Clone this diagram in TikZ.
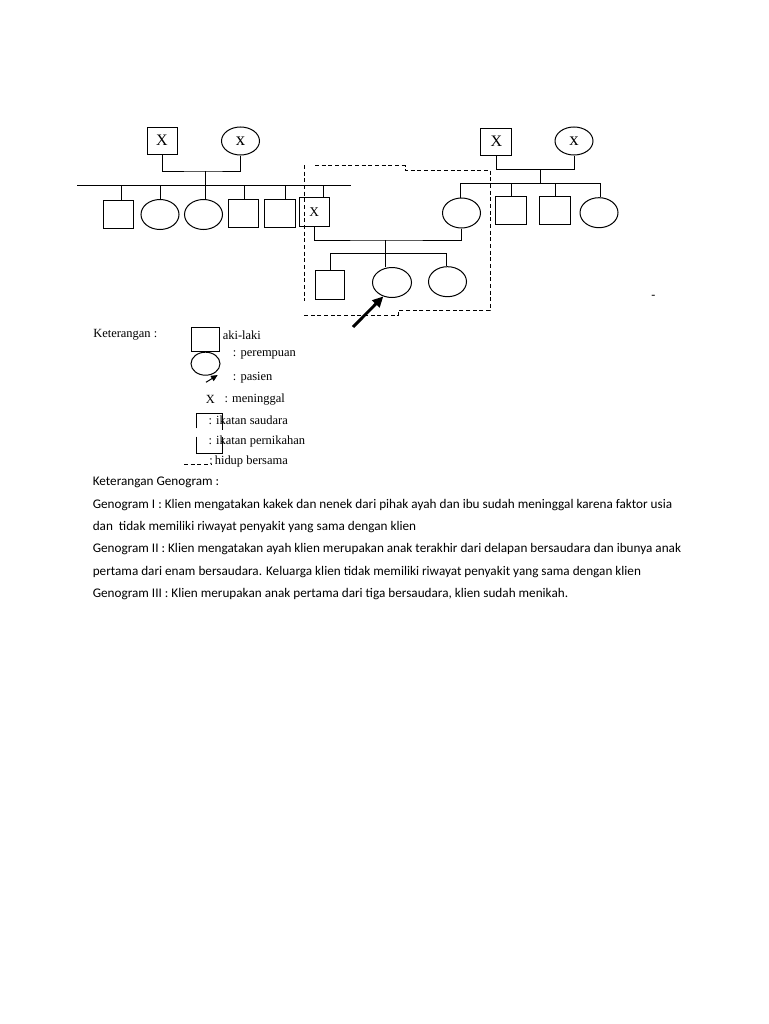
\documentclass[tikz,border=0pt]{standalone}
\usepackage{fontspec}
\setmainfont{Liberation Serif}
\newfontfamily\bodyfont{Carlito}
\usetikzlibrary{shapes.geometric,arrows.meta}
\begin{document}
\begin{tikzpicture}[x=0.75pt,y=-0.75pt,
  ln/.style={line width=0.75pt},
  sq/.style={draw,line width=0.75pt,rectangle,inner sep=0pt},
  el/.style={draw,line width=0.75pt,ellipse,inner sep=0pt},
  sqA/.style={sq,minimum width=22.5pt,minimum height=21pt},
  elA/.style={el,minimum width=28.5pt,minimum height=22.5pt},
  dsh/.style={line width=0.75pt,dash pattern=on 3pt off 2pt},
  lt/.style={font=\fontsize{9.35pt}{11pt}\selectfont,anchor=west,inner sep=0pt},
  bt/.style={font=\bodyfont\fontsize{9.9pt}{11pt}\selectfont,anchor=west,inner sep=0pt},
  bigX/.style={font=\fontsize{12pt}{14pt}\selectfont},
  smallx/.style={font=\fontsize{14pt}{16pt}\selectfont},
  midX/.style={font=\fontsize{10pt}{12pt}\selectfont}
]
\fill[white] (0,0) rectangle (768,1024);
\useasboundingbox (0,0) rectangle (768,1024);

% ---------- generation I ----------
\node[sq,bigX,minimum width=22.5pt,minimum height=20.25pt] (gf1) at (162,140.5) {X};
\node[el,smallx,minimum width=28.5pt,minimum height=21pt] (gm1) at (240.5,141) {x};
\node[sq,bigX,minimum width=23pt,minimum height=20.25pt] (gf2) at (496.3,141.5) {X};
\node[el,smallx,minimum width=28.5pt,minimum height=21pt] (gm2) at (574,141) {x};

% ---------- generation II (father's side) ----------
\node[sqA] (c1) at (118,214) {};
\node[elA] (c2) at (160,214.5) {};
\node[elA] (c3) at (203.5,214.5) {};
\node[sqA] (c4) at (243.3,213) {};
\node[sqA,minimum width=23pt] (c5) at (279.7,213) {};
\node[sq,midX,minimum width=22.5pt,minimum height=21.75pt] (fa) at (314.3,212) {X};

% ---------- generation II (mother's side) ----------
\node[elA] (mo) at (461.5,213) {};
\node[sqA,minimum width=23.25pt] (u1) at (511.2,210.8) {};
\node[sqA,minimum width=23.25pt] (u2) at (555.3,210.8) {};
\node[elA] (u3) at (599,212.7) {};

% ---------- generation III ----------
\node[sq,minimum width=21.5pt,minimum height=21.75pt] (k1) at (330,284.5) {};
\node[el,minimum width=29.25pt,minimum height=22.5pt] (pt) at (392,282.5) {};
\node[elA] (k3) at (447.5,281.7) {};

% ---------- connectors I -> II (left) ----------
\coordinate (m1) at (205,171);
\coordinate (s1a) at (77,185);
\coordinate (s1b) at (351,185);
\draw[ln] (gf1.south) |- (m1) -| (gm1.south);
\draw[ln] (s1a) -- (s1b);
\draw[ln] (m1) -- (m1 |- s1a);
\foreach \n/\x in {c1/121,c2/160,c3/205,c4/244.3,c5/285,fa/323.3}
  \draw[ln] (\x,185) -- (\n.north -| \x,185);

% ---------- connectors I -> II (right) ----------
\coordinate (m2) at (540,169.3);
\coordinate (s2a) at (460,183.3);
\coordinate (s2b) at (600,183.3);
\draw[ln] (gf2.south) |- (m2) -| (gm2.south);
\draw[ln] (s2a) -- (s2b);
\draw[ln] (m2) -- (m2 |- s2a);
\foreach \n/\x in {mo/460,u1/511.7,u2/555,u3/600}
  \draw[ln] (\x,183.3) -- (\n.north -| \x,183.3);

% ---------- connectors II -> III ----------
\coordinate (m3) at (385,240);
\coordinate (s3a) at (330,253.3);
\coordinate (s3b) at (446.7,253.3);
\draw[ln] (fa.south) |- (m3) -| (mo.south);
\draw[ln] (s3a) -- (s3b);
\draw[ln] (m3) -- (m3 |- s3a);
\foreach \n/\x in {k1/330,pt/385,k3/446.7}
  \draw[ln] (\x,253.3) -- (\n.north -| \x,253.3);

% ---------- patient arrow ----------
\coordinate (pa) at (353,327);
\draw[line width=2.2pt,-{Triangle[length=8pt,width=7.5pt]}] (pa) -- (pt.238);

% ---------- living together (dashed) ----------
\draw[dsh] (304,165) -- (304,301);
\draw[dsh] (315,165.5) -- (405,165.5) -- (405,170) -- (490,170) -- (490,310.5)
  -- (398,310.5) -- (398,315) -- (303,315);

\node[bt] (dash) at (651,297) {-};

% ---------- legend ----------
\node[lt] (ket) at (93,335) {Keterangan :};
\node[lt] (t1) at (222.5,335) {aki-laki};
\node[sq,fill=white,minimum width=20.7pt,minimum height=18.3pt] (lsq) at (205.5,339.5) {};
\node[el,minimum width=21.75pt,minimum height=17.25pt] (lel) at (205.5,363.7) {};
\node[lt] (t2) at (232.7,355) {: perempuan};
\coordinate (la) at (206,382.3);
\coordinate (lb) at (217.7,375);
\draw[line width=0.75pt,-{Triangle[length=5pt,width=4.5pt]}] (la) -- (lb);
\node[lt] (t3) at (232.7,377.3) {: pasien};
\node[lt] (lx) at (205.5,399.3) {X};
\node[lt] (t4) at (224.3,399.3) {: meninggal};
\draw[ln] (196,428.3) -- (196,413.3) -- (222.7,413.3) -- (222.7,430);
\node[lt] (t5) at (208.3,420) {: ikatan saudara};
\draw[ln] (196,436.7) -- (196,453.3) -- (222.7,453.3) -- (222.7,436.7);
\node[lt] (t6) at (208.3,441.7) {: ikatan pernikahan};
\draw[dsh] (184,464.3) -- (211,464.3);
\node[lt] (t7) at (209,461.7) {:\,hidup bersama};

% ---------- explanation ----------
\node[bt] (k0) at (92.5,482) {Keterangan Genogram :};
\node[bt] (k1t) at (92.5,505) {Genogram I : Klien mengatakan kakek dan nenek dari pihak ayah dan ibu sudah meninggal karena faktor usia};
\node[bt] (k2t) at (92.5,527) {dan\ \ tidak memiliki riwayat penyakit yang sama dengan klien};
\node[bt] (k3t) at (92.5,549) {Genogram II : Klien mengatakan ayah klien merupakan anak terakhir dari delapan bersaudara dan ibunya anak};
\node[bt] (k4t) at (92.5,572) {pertama dari enam bersaudara. Keluarga klien tidak memiliki riwayat penyakit yang sama dengan klien};
\node[bt] (k5t) at (92.5,594) {Genogram III : Klien merupakan anak pertama dari tiga bersaudara, klien sudah menikah.};
\end{tikzpicture}
\end{document}
